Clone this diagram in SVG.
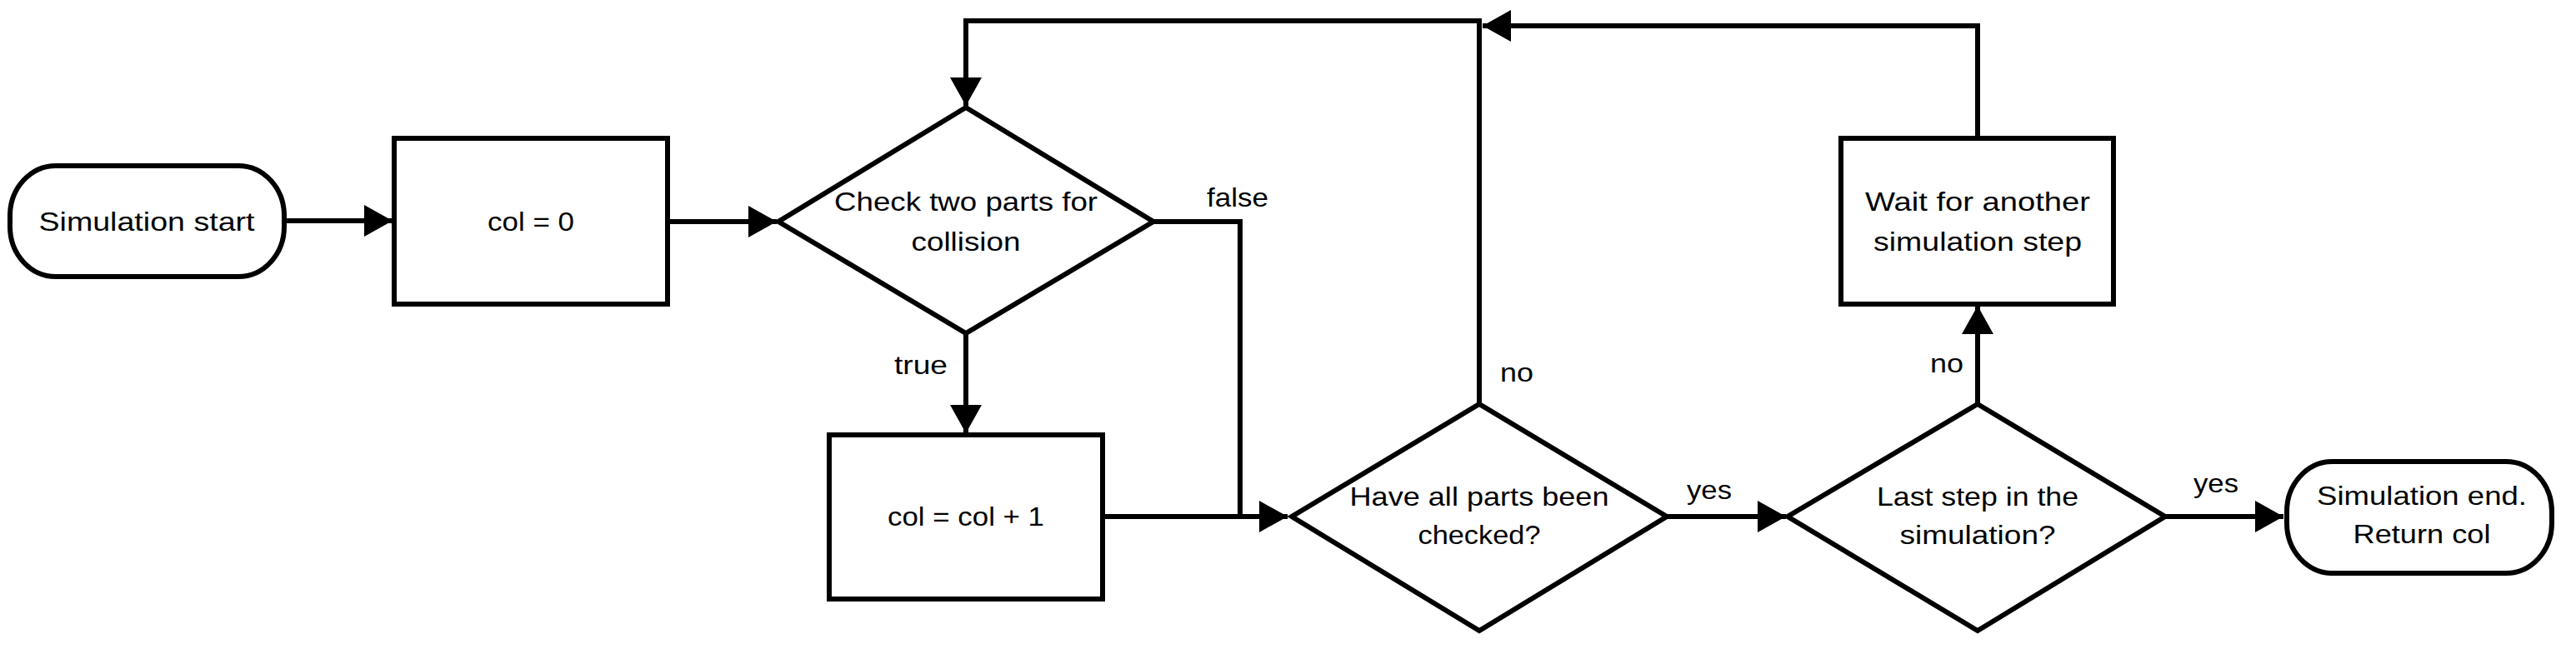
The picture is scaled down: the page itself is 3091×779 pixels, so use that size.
<svg xmlns="http://www.w3.org/2000/svg" width="3091" height="779" viewBox="0 0 3091 779">
<style>
.s{fill:#fff;stroke:#000;stroke-width:6}
.c{fill:none;stroke:#000;stroke-width:6}
text{font-family:"Liberation Sans",Arial,sans-serif;font-size:32px;fill:#000;text-anchor:middle}
.l{text-anchor:start}
</style>
<defs>
<marker id="a" markerUnits="userSpaceOnUse" markerWidth="36" markerHeight="38" refX="34" refY="19" orient="auto">
<path d="M0,0 L34,19 L0,38 Z" fill="#000"/>
</marker>
</defs>
<rect width="3091" height="779" fill="#fff"/>
<g id="connectors">
<path class="c" d="M341,265 H471" marker-end="url(#a)"/>
<path class="c" d="M801,266 H932" marker-end="url(#a)"/>
<path class="c" d="M1384,266 H1488 V620"/>
<path class="c" d="M1159,400 V520" marker-end="url(#a)"/>
<path class="c" d="M1323,620 H1545" marker-end="url(#a)"/>
<path class="c" d="M1775,485 V25 H1159 V127" marker-end="url(#a)"/>
<path class="c" d="M2000,620 H2143" marker-end="url(#a)"/>
<path class="c" d="M2373,485 V367" marker-end="url(#a)"/>
<path class="c" d="M2373,166 V31 H1779" marker-end="url(#a)"/>
<path class="c" d="M2598,620 H2740" marker-end="url(#a)"/>
<text x="1448" y="248" class="l" textLength="74" lengthAdjust="spacingAndGlyphs">false</text>
<text x="1073" y="449" class="l" textLength="64" lengthAdjust="spacingAndGlyphs">true</text>
<text x="1800" y="458" class="l" textLength="40" lengthAdjust="spacingAndGlyphs">no</text>
<text x="2024" y="599" class="l" textLength="54" lengthAdjust="spacingAndGlyphs">yes</text>
<text x="2316" y="447" class="l" textLength="40" lengthAdjust="spacingAndGlyphs">no</text>
<text x="2632" y="591" class="l" textLength="54" lengthAdjust="spacingAndGlyphs">yes</text>
</g>
<g id="start"><rect class="s" x="12" y="199" width="329" height="133" rx="55" ry="60"/>
<text x="176" y="277" textLength="259" lengthAdjust="spacingAndGlyphs">Simulation start</text></g>
<g id="col0"><rect class="s" x="473" y="166" width="328" height="199"/>
<text x="637" y="277" textLength="104" lengthAdjust="spacingAndGlyphs">col = 0</text></g>
<g id="check"><polygon class="s" points="1159,129 1384,266 1159,400 934,266"/>
<text x="1159" y="253" textLength="316" lengthAdjust="spacingAndGlyphs">Check two parts for</text>
<text x="1159" y="301" textLength="131" lengthAdjust="spacingAndGlyphs">collision</text></g>
<g id="inc"><rect class="s" x="995" y="522" width="328" height="197"/>
<text x="1159" y="631" textLength="188" lengthAdjust="spacingAndGlyphs">col = col + 1</text></g>
<g id="allchecked"><polygon class="s" points="1775,485 2000,620 1775,757 1550,620"/>
<text x="1775" y="607" textLength="311" lengthAdjust="spacingAndGlyphs">Have all parts been</text>
<text x="1775" y="653" textLength="147" lengthAdjust="spacingAndGlyphs">checked?</text></g>
<g id="laststep"><polygon class="s" points="2373,485 2598,620 2373,757 2145,620"/>
<text x="2373" y="607" textLength="242" lengthAdjust="spacingAndGlyphs">Last step in the</text>
<text x="2373" y="653" textLength="187" lengthAdjust="spacingAndGlyphs">simulation?</text></g>
<g id="wait"><rect class="s" x="2209" y="166" width="327" height="199"/>
<text x="2373" y="253" textLength="270" lengthAdjust="spacingAndGlyphs">Wait for another</text>
<text x="2373" y="301" textLength="250" lengthAdjust="spacingAndGlyphs">simulation step</text></g>
<g id="end"><rect class="s" x="2744" y="554" width="318" height="134" rx="55" ry="60"/>
<text x="2906" y="606" textLength="252" lengthAdjust="spacingAndGlyphs">Simulation end.</text>
<text x="2906" y="652" textLength="165" lengthAdjust="spacingAndGlyphs">Return col</text></g>
</svg>
